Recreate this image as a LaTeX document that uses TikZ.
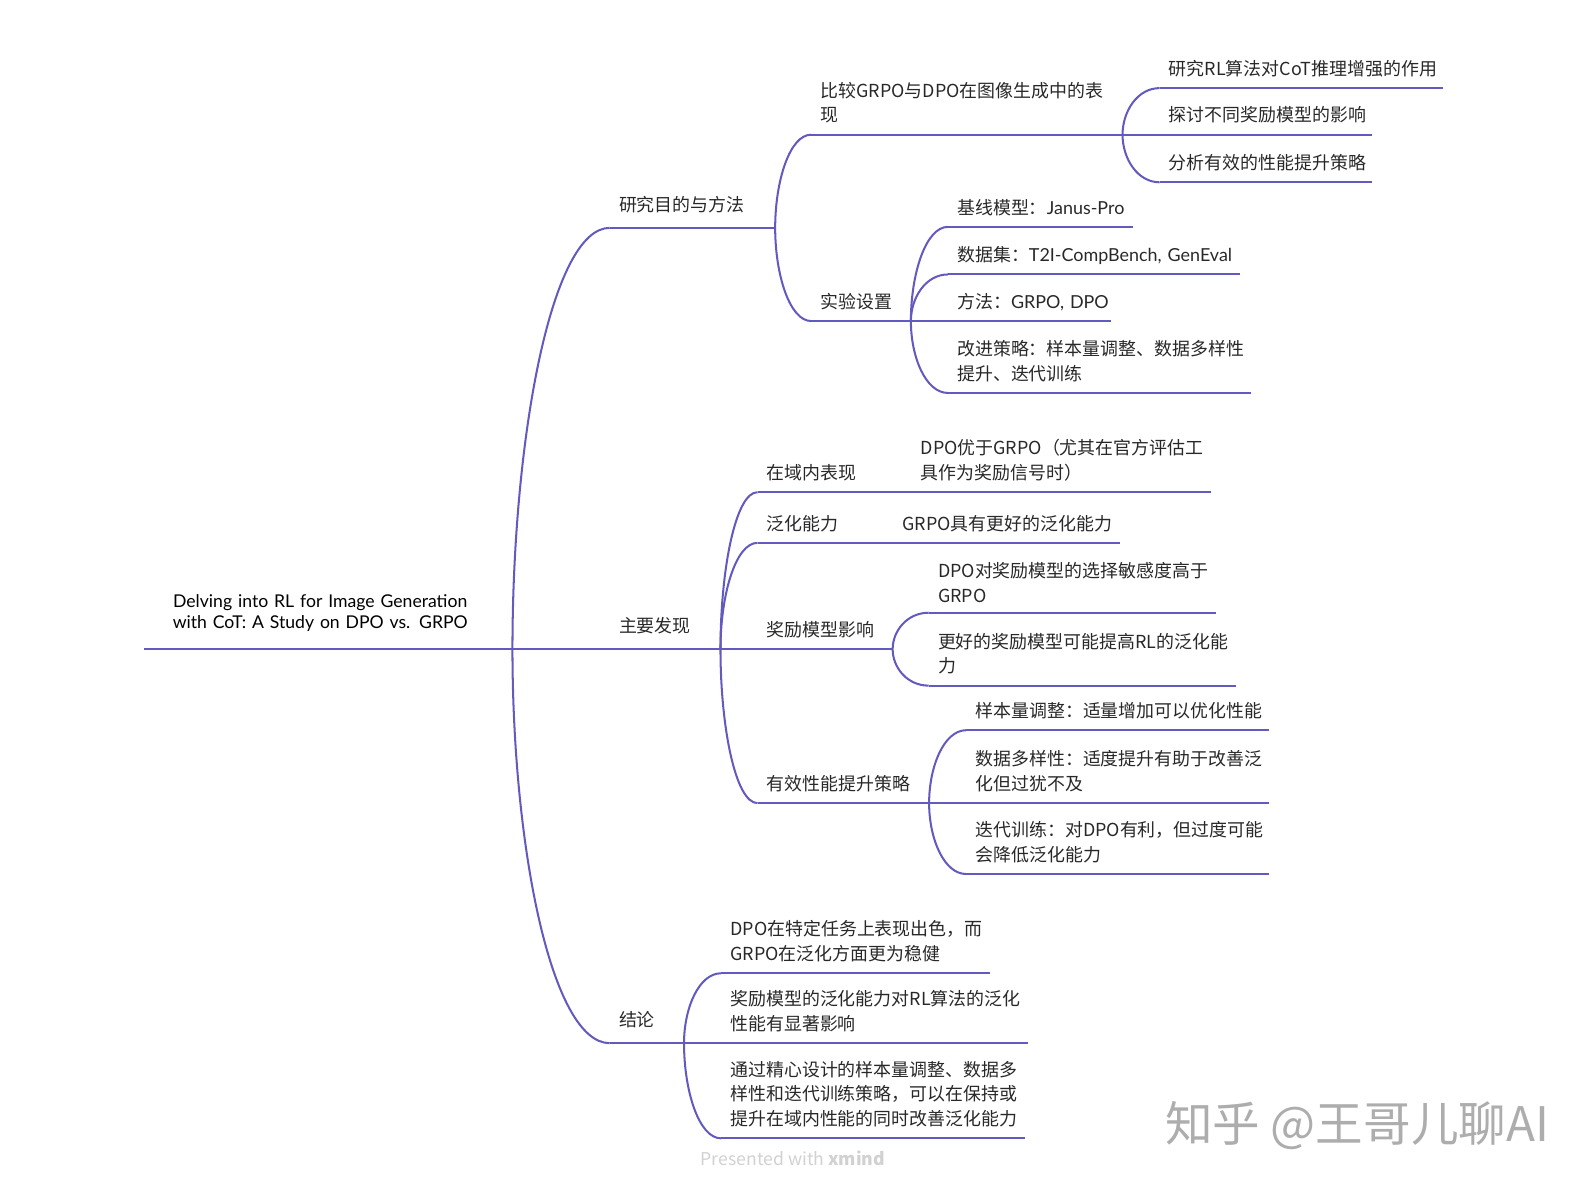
\documentclass[tikz,border=0pt]{standalone}
\usepackage{fontspec}
\setmainfont{Noto Sans CJK SC}
\newfontfamily\rootfont{Lato}
\usetikzlibrary{calc}

\definecolor{branchcol}{RGB}{98,90,190}
\definecolor{textcol}{RGB}{40,40,40}

\tikzset{
	branch/.style={draw=branchcol, line width=2pt},
	topic/.style={anchor=south west, align=left, inner xsep=9pt, inner ysep=5pt, text=textcol,
		font=\fontsize{17.7}{24.5}\selectfont, execute at end node=\strut},
	maintopic/.style={topic, inner ysep=8.5pt},
}

% curve from a fork point to the start of a child's underline, then the underline
\newcommand{\branchto}[2]{
	\draw[branch] (#1) .. controls ($(#1)!.5!(#1 |- #2.south west)$) and ($(#2.south west)!.6!(#1 |- #2.south west)$) .. (#2.south west);
	\draw[branch] (#2.south west) -- (#2.south east);
}

\begin{document}
\begin{tikzpicture}[x=1pt, y=-1pt]
	\useasboundingbox (0,0) rectangle (1567,1174);
	% Root
	\node[topic, align=center, inner xsep=0pt, inner ysep=13.5pt, text width=348pt, text=black, font=\rootfont\fontsize{17.4}{21}\selectfont] (root) at (142,641) {Delving into RL for Image Generation\\with CoT: A Study on DPO vs. GRPO};
	\coordinate (rootend) at (506,641);
	\draw[branch] (root.south west) -- (rootend);
	% First level
	\node[maintopic, text width=145pt] (purpose) at (602,225) {研究目的与方法};
	\node[maintopic, text width=91pt] (findings) at (602,641) {主要发现};
	\node[maintopic, text width=55pt] (conclusion) at (602,1030) {结论};
	\branchto{rootend}{purpose}
	\branchto{rootend}{findings}
	\branchto{rootend}{conclusion}
	% Purpose and method
	\node[topic, text width=289pt] (compare) at (801,133) {比较GRPO与DPO在图像生成中的表\\现};
	\node[topic, text width=80pt] (setup) at (801,317) {实验设置};
	\branchto{purpose.south east}{compare}
	\branchto{purpose.south east}{setup}
	\node[topic, text width=261pt] (role) at (1145,87) {研究RL算法对CoT推理增强的作用};
	\node[topic, text width=191pt] (reward) at (1145,133) {探讨不同奖励模型的影响};
	\node[topic, text width=191pt] (strategy) at (1145,180) {分析有效的性能提升策略};
	\branchto{compare.south east}{role}
	\branchto{compare.south east}{reward}
	\branchto{compare.south east}{strategy}
	\node[topic, text width=164pt] (baseline) at (936,224) {\mbox{基线模型：{\rootfont Janus-Pro}}};
	\node[topic, text width=270pt] (dataset) at (936,271) {\mbox{数据集：{\rootfont T2I-CompBench, GenEval}}};
	\node[topic, text width=143pt] (method) at (936,317) {\mbox{方法：{\rootfont GRPO, DPO}}};
	\node[topic, text width=281pt] (improve) at (936,388) {改进策略：样本量调整、数据多样性\\提升、迭代训练};
	\branchto{setup.south east}{baseline}
	\branchto{setup.south east}{dataset}
	\branchto{setup.south east}{method}
	\branchto{setup.south east}{improve}
	% Main findings
	\node[topic, text width=134pt] (indomain) at (748,486) {在域内表现};
	\node[topic, text width=116pt] (general) at (748,536) {泛化能力};
	\node[topic, text width=115pt] (rewardfx) at (748,641) {奖励模型影响};
	\node[topic, text width=151pt] (boost) at (748,793) {有效性能提升策略};
	\branchto{findings.south east}{indomain}
	\branchto{findings.south east}{general}
	\branchto{findings.south east}{rewardfx}
	\branchto{findings.south east}{boost}
	\node[topic, text width=277pt] (dpobetter) at (900,486) {DPO优于GRPO（尤其在官方评估工\\具作为奖励信号时）};
	\branchto{indomain.south east}{dpobetter}
	\node[topic, text width=205pt] (grpobetter) at (882,536) {GRPO具有更好的泛化能力};
	\branchto{general.south east}{grpobetter}
	\node[topic, inner ysep=3pt, text width=265pt] (sensitive) at (917,605) {DPO对奖励模型的选择敏感度高于\\GRPO};
	\node[topic, text width=285pt] (better) at (917,677) {更好的奖励模型可能提高RL的泛化能\\力};
	\branchto{rewardfx.south east}{sensitive}
	\branchto{rewardfx.south east}{better}
	\node[topic, text width=281pt] (sample) at (954,721) {样本量调整：适量增加可以优化性能};
	\node[topic, text width=281pt] (diverse) at (954,793) {数据多样性：适度提升有助于改善泛\\化但过犹不及};
	\node[topic, text width=281pt] (iterate) at (954,863) {迭代训练：对DPO有利，但过度可能\\会降低泛化能力};
	\branchto{boost.south east}{sample}
	\branchto{boost.south east}{diverse}
	\branchto{boost.south east}{iterate}
	% Conclusion
	\node[topic, text width=247pt] (task) at (712,961) {DPO在特定任务上表现出色，而\\GRPO在泛化方面更为稳健};
	\node[topic, text width=285pt] (impact) at (712,1030) {奖励模型的泛化能力对RL算法的泛化\\性能有显著影响};
	\node[topic, text width=282pt] (design) at (712,1124) {通过精心设计的样本量调整、数据多\\样性和迭代训练策略，可以在保持或\\提升在域内性能的同时改善泛化能力};
	\branchto{conclusion.south east}{task}
	\branchto{conclusion.south east}{impact}
	\branchto{conclusion.south east}{design}
	% Footer and watermark
	\node[text=black!18, font=\fontsize{17.4}{20}\selectfont] (footer) at (783,1144) {Presented with \textbf{xmind}};
	\node[text=black!32, font=\fontsize{47}{52}\selectfont] (mark) at (1340,1111) {知乎 @王哥儿聊AI};
\end{tikzpicture}
\end{document}
